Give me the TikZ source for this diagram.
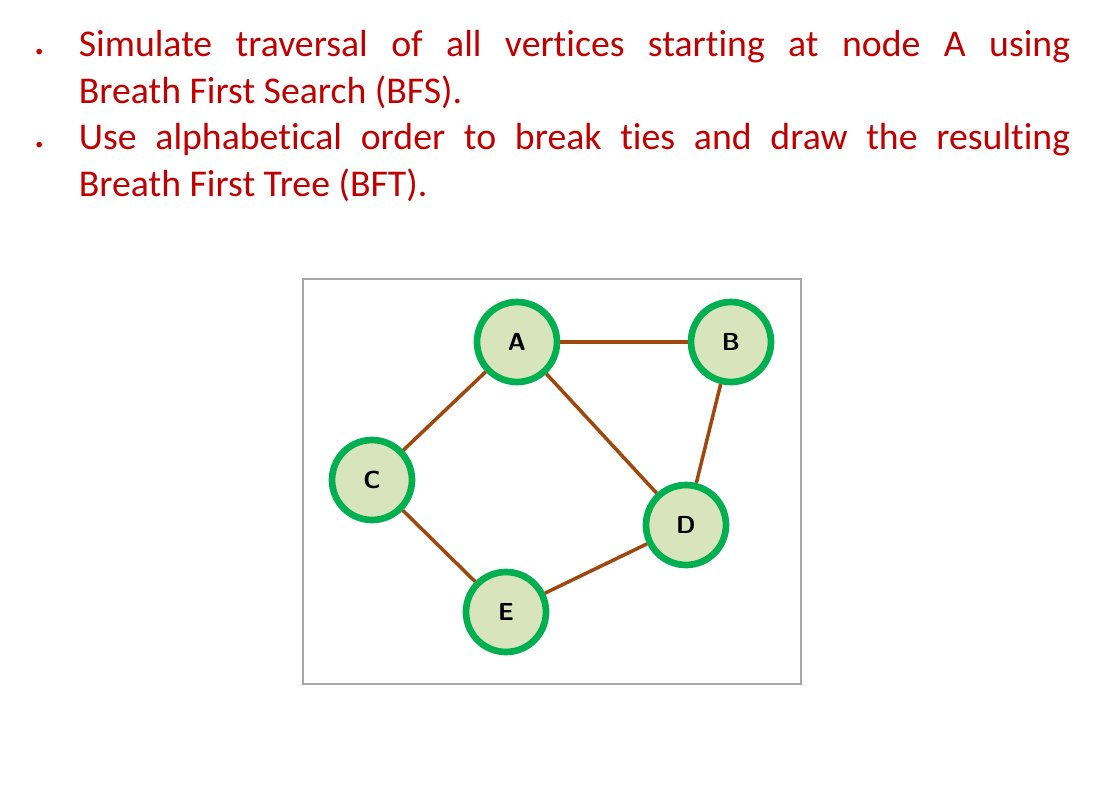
\documentclass[tikz,border=0pt]{standalone}
\usepackage{fontspec}
\setmainfont{Carlito}[Ligatures=NoCommon]
\definecolor{txtred}{RGB}{192,0,0}
\definecolor{edgebrown}{RGB}{158,72,14}
\definecolor{nodegreen}{RGB}{0,176,80}
\definecolor{nodefill}{RGB}{216,228,188}
\begin{document}
\begin{tikzpicture}[x=0.02cm,y=-0.02cm,
  vert/.style={circle,draw=nodegreen,line width=3.8pt,fill=nodefill,minimum size=1.6cm,inner sep=0pt,font=\fontsize{14}{16}\selectfont\sffamily\bfseries},
  edge/.style={draw=edgebrown,line width=2pt}]
\useasboundingbox (0,0) rectangle (1111,793);
\node[anchor=north west,inner sep=0pt,text=txtred,font=\fontsize{21.5}{26.5}\selectfont] (t1) at (30,30)
 {\parbox[t]{20.8cm}{\leftskip=0.97cm\parindent=0pt\parfillskip=0pt plus 1fil
 \hspace*{-0.97cm}\makebox[0.97cm][l]{\hspace{0.1cm}{\small\textbullet}}Simulate traversal of all vertices starting at node A using\linebreak Breath First Search (BFS).\par
 \hspace*{-0.97cm}\makebox[0.97cm][l]{\hspace{0.1cm}{\small\textbullet}}Use alphabetical order to break ties and draw the resulting\linebreak Breath First Tree (BFT).\par}};
\draw[draw=black!35,line width=0.8pt] (303,279) rectangle (801,684);
\node[vert] (A) at (517,342) {A};
\node[vert] (B) at (731,342) {B};
\node[vert] (C) at (372,480) {C};
\node[vert] (D) at (686,525) {D};
\node[vert] (E) at (506,612) {E};
\draw[edge] (A) -- (B);
\draw[edge] (A) -- (C);
\draw[edge] (A) -- (D);
\draw[edge] (B) -- (D);
\draw[edge] (C) -- (E);
\draw[edge] (E) -- (D);
\end{tikzpicture}
\end{document}
